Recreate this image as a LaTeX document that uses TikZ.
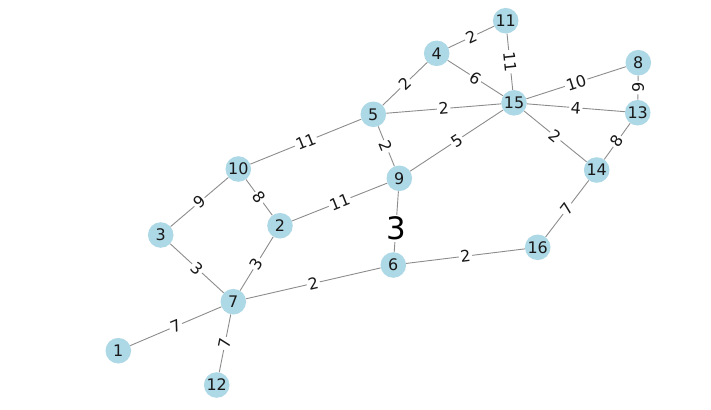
\documentclass[tikz,border=0pt]{standalone}
\usepackage{fontspec}
\setmainfont{DejaVu Sans}
\usetikzlibrary{backgrounds}
\definecolor{nodeblue}{HTML}{ADD8E6}
\definecolor{edgegray}{HTML}{8C8C8C}
\tikzset{
  vert/.style={circle, fill=nodeblue, minimum size=25.6bp, inner sep=0pt, font=\fontsize{16}{16}\selectfont, text=black!90},
  edge/.style={draw=edgegray, line width=0.9bp},
  elabel/.style={sloped, fill=white, inner sep=1.5bp, rounded corners=3bp, font=\fontsize{16}{16}\selectfont, text=black!90},
  biglabel/.style={fill=white, inner sep=2bp, font=\fontsize{31}{31}\selectfont, text=black}
}
\begin{document}
\begin{tikzpicture}[x=1bp, y=-1bp]
\useasboundingbox (0,0) rectangle (711,409);
\node[vert] (n1) at (118.3,350.7) {1};
\node[vert] (n2) at (280,225.7) {2};
\node[vert] (n3) at (160.7,235) {3};
\node[vert] (n4) at (436.7,53.3) {4};
\node[vert] (n5) at (373.3,114.3) {5};
\node[vert] (n6) at (393.3,265) {6};
\node[vert] (n7) at (233.3,301.7) {7};
\node[vert] (n8) at (638.3,62.7) {8};
\node[vert] (n9) at (399.3,178.3) {9};
\node[vert] (n10) at (238.3,169) {10};
\node[vert] (n11) at (505.7,20.7) {11};
\node[vert] (n12) at (216.7,385) {12};
\node[vert] (n13) at (637.7,112.7) {13};
\node[vert] (n14) at (596.7,170) {14};
\node[vert] (n15) at (514,102.8) {15};
\node[vert] (n16) at (537.7,247.3) {16};
\begin{pgfonlayer}{background}
\draw[edge] (n11) -- node[elabel] {2} (n4);
\draw[edge] (n11) -- node[elabel] {11} (n15);
\draw[edge] (n4) -- node[elabel] {2} (n5);
\draw[edge] (n4) -- node[elabel] {6} (n15);
\draw[edge] (n8) -- node[elabel] {10} (n15);
\draw[edge] (n8) -- node[elabel] {9} (n13);
\draw[edge] (n15) -- node[elabel] {4} (n13);
\draw[edge] (n15) -- node[elabel] {2} (n5);
\draw[edge] (n15) -- node[elabel] {2} (n14);
\draw[edge] (n15) -- node[elabel] {5} (n9);
\draw[edge] (n13) -- node[elabel] {8} (n14);
\draw[edge] (n5) -- node[elabel] {11} (n10);
\draw[edge] (n5) -- node[elabel] {2} (n9);
\draw[edge] (n10) -- node[elabel] {9} (n3);
\draw[edge] (n10) -- node[elabel] {8} (n2);
\draw[edge] (n9) -- node[elabel] {11} (n2);
\draw[edge] (n9) -- node[biglabel, yshift=-7bp] {3} (n6);
\draw[edge] (n14) -- node[elabel] {7} (n16);
\draw[edge] (n16) -- node[elabel] {2} (n6);
\draw[edge] (n3) -- node[elabel] {3} (n7);
\draw[edge] (n2) -- node[elabel] {3} (n7);
\draw[edge] (n7) -- node[elabel] {2} (n6);
\draw[edge] (n7) -- node[elabel] {7} (n1);
\draw[edge] (n7) -- node[elabel] {7} (n12);
\end{pgfonlayer}
\end{tikzpicture}
\end{document}
